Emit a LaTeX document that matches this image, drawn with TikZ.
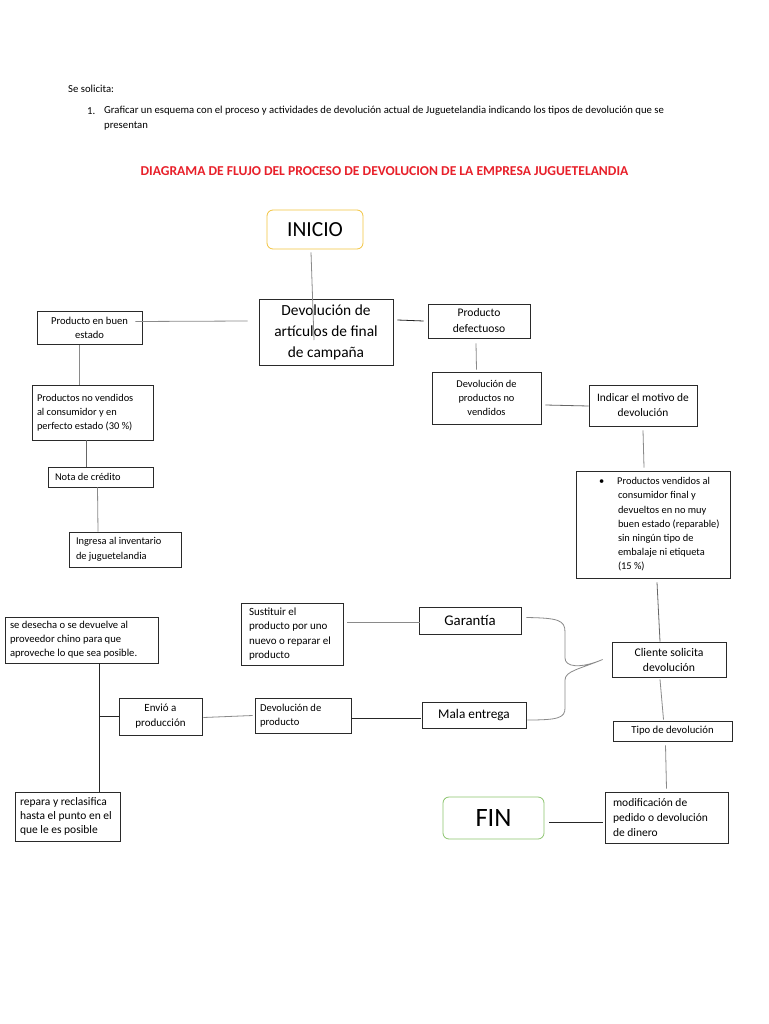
\documentclass[tikz,border=0pt]{standalone}
\usepackage{fontspec}
\setmainfont{Carlito}
\definecolor{lnGray}{HTML}{8A8A8A}
\definecolor{bxBorder}{HTML}{2A2A2A}
\definecolor{iniYellow}{HTML}{F2C440}
\definecolor{finGreen}{HTML}{8CC46E}
\definecolor{titleRed}{HTML}{E8202A}
\newcommand{\fs}[2]{\fontsize{#1}{#2}\selectfont}
\newcommand{\ns}{\spaceskip=0pt\xspaceskip=0pt\relax}
\begin{document}
\begin{tikzpicture}[x=1pt,y=-1pt,
  fz/.style 2 args={font=\fs{#1}{#2}},
  bx/.style={draw=bxBorder, line width=0.8pt, inner ysep=0pt, inner xsep=5pt},
  grayln/.style={draw=lnGray, line width=0.8pt},
  blackln/.style={draw=black!85, line width=0.8pt},
  dkln/.style={draw=black!60, line width=0.8pt},
  txt/.style={inner sep=0pt, anchor=west}]
\useasboundingbox[fill=white] (0,0) rectangle (768,1024);

% header
\node[txt, fz={10.7}{13}] (hdA) at (68,89) {Se solicita:};
\node[txt, fz={10.7}{13}] (hdB) at (87,111) {1.};
\node[txt, fz={10.7}{13}] (hdC) at (104,111) {Graficar un esquema con el proceso y actividades de devolución actual de Juguetelandia indicando los tipos de devolución que se};
\node[txt, fz={10.7}{13}] (hdD) at (104,126) {presentan};
\node[inner sep=0pt, text=titleRed, font=\fs{13.6}{16}\bfseries] (title) at (384.5,171) {DIAGRAMA DE FLUJO DEL PROCESO DE DEVOLUCION DE LA EMPRESA JUGUETELANDIA};

% nodes
\node[bx, draw=iniYellow, rounded corners=6pt, minimum width=96pt, minimum height=39pt, fz={21.5}{24}] (inicio) at (315,229.5) {INICIO};
\node[bx, minimum width=134pt, minimum height=66pt, align=center, fz={15.4}{21}] (dev) at (326,332) {Devolución de\\artículos de final\\de campaña};
\node[bx, minimum width=105pt, minimum height=33pt, align=center, fz={10.6}{14}] (buen) at (89.5,327.5) {Producto en buen\\estado};
\node[bx, minimum height=55pt, text width=111pt, align=left, fz={10.4}{14}] (novend) at (92.5,412.5) {\ns Productos no vendidos\\al consumidor y en\\perfecto estado (30 \%)};
\node[bx, inner xsep=7pt, minimum height=20pt, text width=91pt, align=left, fz={10.4}{14}] (nota) at (100.5,477) {\ns Nota de crédito};
\node[bx, inner xsep=7pt, minimum height=35pt, text width=98pt, align=left, fz={10.4}{15}] (ingresa) at (125,549.5) {\ns Ingresa al inventario\\de juguetelandia};
\node[bx, minimum width=102pt, minimum height=34pt, align=center, fz={11.6}{16}] (defect) at (479,321) {Producto\\defectuoso};
\node[bx, minimum width=109pt, minimum height=52pt, align=center, fz={10.4}{14}] (devnov) at (486.5,398) {Devolución de\\productos no\\vendidos};
\node[bx, minimum width=108pt, minimum height=41pt, align=center, fz={11.4}{15}] (motivo) at (643,405.5) {Indicar el motivo de\\devolución};
\node[bx, minimum height=107pt, text width=144pt, align=left, fz={10.4}{14.2}] (bullet) at (653,524.5) {\ns\hspace*{18pt}\textbullet\hspace{13pt}Productos vendidos al\\\hspace*{37pt}consumidor final y\\\hspace*{37pt}devueltos en no muy\\\hspace*{37pt}buen estado (reparable)\\\hspace*{37pt}sin ningún tipo de\\\hspace*{37pt}embalaje ni etiqueta\\\hspace*{37pt}(15 \%)};
\node[bx, minimum width=114pt, minimum height=35pt, align=center, fz={11.7}{15}] (cliente) at (669,659.5) {Cliente solicita\\devolución};
\node[bx, minimum width=102pt, minimum height=27pt, fz={14.8}{17}] (garantia) at (470,620.5) {Garantía};
\node[bx, minimum width=104pt, minimum height=26pt, fz={13.3}{16}] (mala) at (474,715) {Mala entrega};
\node[bx, minimum width=119pt, minimum height=20pt, fz={10.7}{12}] (tipo) at (672.5,731) {Tipo de devolución};
\node[bx, inner xsep=8pt, minimum height=51pt, text width=107pt, align=left, fz={11.5}{15}] (modif) at (666.5,817.5) {\ns modificación de\\pedido o devolución\\de dinero};
\node[bx, draw=finGreen, rounded corners=6pt, minimum width=101pt, minimum height=42pt, fz={26.5}{28}] (fin) at (493.5,818) {FIN};
\node[bx, inner xsep=8pt, minimum height=62pt, text width=86pt, align=left, fz={11}{14.6}] (sust) at (292,634) {\ns Sustituir el\\producto por uno\\nuevo o reparar el\\producto};
\node[bx, minimum height=35pt, text width=86pt, align=left, fz={10.6}{14}] (devprod) at (303,715.5) {\ns Devolución de\\producto};
\node[bx, minimum width=83pt, minimum height=37pt, align=center, fz={11}{15}] (envio) at (160.5,716.5) {Envió a\\producción};
\node[bx, minimum height=46pt, text width=143pt, align=left, fz={10.6}{14}] (desecha) at (81.5,640) {\ns se desecha o se devuelve al\\proveedor chino para que\\aproveche lo que sea posible.};
\node[bx, minimum height=49pt, text width=95pt, align=left, fz={11.5}{14}] (repara) at (67.5,816.5) {\ns repara y reclasifica\\hasta el punto en el\\que le es posible};

% connectors
\draw[grayln] ([xshift=-4pt,yshift=-3pt]inicio.south) -- ([xshift=-12pt,yshift=-8pt]dev.center);
\draw[grayln] ([xshift=-7pt,yshift=6pt]buen.east) -- ([xshift=-11pt,yshift=11pt]dev.west);
\draw[blackln] ([xshift=4pt,yshift=12pt]dev.east) -- ([xshift=-4pt]defect.west);
\draw[grayln] ([xshift=-3pt,yshift=-5pt]defect.south) -- ([xshift=-10pt,yshift=2pt]devnov.north);
\draw[dkln] ([xshift=4pt,yshift=-7pt]devnov.east) -- ([yshift=-0.5pt]motivo.west);
\draw[grayln] ([xshift=0pt,yshift=-4pt]motivo.south) -- ([xshift=-9pt,yshift=3pt]bullet.north);
\draw[dkln] ([xshift=4pt,yshift=-4pt]bullet.south) -- ([xshift=-9pt]cliente.north);
\draw[grayln] ([xshift=-9pt,yshift=-2pt]cliente.south) -- ([xshift=-9pt,yshift=1pt]tipo.north);
\draw[grayln] ([xshift=-7pt,yshift=-4pt]tipo.south) -- ([xshift=0pt,yshift=3pt]modif.north);
\draw[blackln] ([xshift=5pt,yshift=-4pt]fin.east) -- ([xshift=-2pt,yshift=-4.5pt]modif.west);
\draw[grayln] ([xshift=4pt,yshift=12pt]sust.east) -- ([xshift=1pt,yshift=-1.5pt]garantia.west);
\draw[blackln] ([yshift=-2.5pt]devprod.east) -- ([xshift=-1pt,yshift=-3pt]mala.west);
\draw[grayln] ([xshift=1pt,yshift=-1pt]envio.east) -- ([xshift=-2pt]devprod.west);
\coordinate (jn) at ([xshift=17.5pt]desecha.south);
\draw[blackln] (jn) -- (jn |- repara.north);
\draw[blackln] (jn |- envio.west) -- (envio.west);
\coordinate (bq) at ([xshift=-10.5pt,yshift=-1pt]buen.south);
\draw[grayln] (bq) -- (bq |- novend.north);
\draw[dkln] ([xshift=-6pt]novend.south) -- ([xshift=-14pt]nota.north);
\draw[grayln] ([xshift=-3pt]nota.south) -- ([xshift=-27pt]ingresa.north);
% brace
\draw[grayln] ([xshift=5pt,yshift=3pt]garantia.east) .. controls (558,618) and (565,620) .. (565,632) -- (565,658) .. controls (565,667) and (580,669) .. ([xshift=-9pt]cliente.west) .. controls (580,669) and (565,671) .. (565,680) -- (565,708) .. controls (565,718) and (558,720) .. ([xshift=1pt,yshift=-5pt]mala.east);
\end{tikzpicture}
\end{document}
